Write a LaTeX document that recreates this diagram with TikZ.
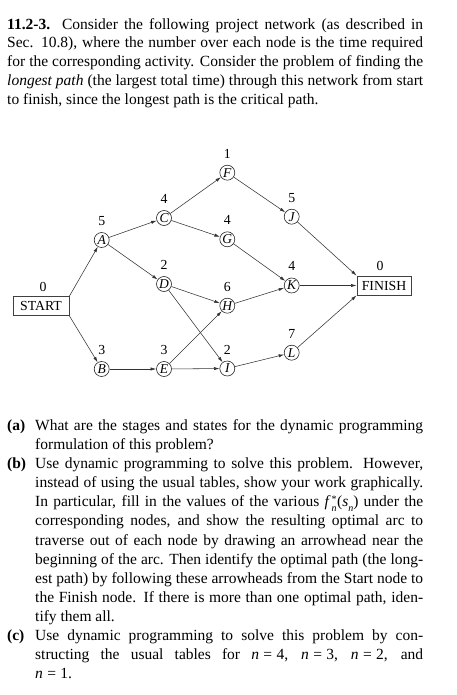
\documentclass[tikz,border=0pt]{standalone}
\usepackage{fontspec}
\setmainfont{Liberation Serif}
\usetikzlibrary{arrows.meta}
\newcommand{\jl}[1]{\makebox[416pt][s]{#1}}
\newcommand{\jp}[1]{\makebox[388pt][s]{#1}}
\newcommand{\plab}[1]{\makebox[28pt][l]{\textbf{(#1)}}}
\newcommand{\ind}{\hspace*{28pt}}
\newcommand{\vn}{\textit{n}\kern0.28em=\kern0.28em}
\newcommand{\fnstar}{\textit{f}\kern1pt\rlap{\raisebox{-0.3em}{\fontsize{10}{10}\selectfont\textit{n}}}\raisebox{0.3em}{\fontsize{10}{10}\selectfont *}\kern0.5pt(\textit{s}\raisebox{-0.3em}{\fontsize{10}{10}\selectfont\textit{n}})}
\begin{document}
\begin{tikzpicture}[x=1pt,y=-1pt,
  act/.style={circle,draw=black!85,line width=0.6pt,minimum size=15pt,inner sep=0pt,font=\fontsize{13.5}{14}\selectfont\itshape},
  term/.style={rectangle,draw=black!75,line width=0.9pt,minimum height=19pt,inner sep=1.5pt,font=\fontsize{13.8}{14}\selectfont},
  tlabel/.style={inner sep=0pt,font=\fontsize{13.8}{14}\selectfont},
  arc/.style={draw=black!80,line width=0.55pt,-{Latex[length=5.5pt,width=3.2pt]}},
  txt/.style={anchor=base west,inner sep=0pt,font=\fontsize{15.5}{18.7}\selectfont}]
\useasboundingbox (0,0) rectangle (456,695);

% ---- top paragraph ----
\node[txt] (t1) at (7,29.3) {\jl{\textbf{11.2-3.} Consider the following project network (as described in}};
\node[txt] (t2) at (7,48.0) {\jl{Sec. 10.8), where the number over each node is the time required}};
\node[txt] (t3) at (7,66.7) {\jl{for the corresponding activity. Consider the problem of finding the}};
\node[txt] (t4) at (7,85.4) {\jl{\textit{longest path} (the largest total time) through this network from start}};
\node[txt] (t5) at (7,104.1) {to finish, since the longest path is the critical path.};

% ---- network ----
\node[term,minimum width=56pt] (START) at (41,306) {START};
\node[term,minimum width=54pt] (FINISH) at (384,285.5) {FINISH};
\node[act] (A) at (101.7,240) {A};
\node[act] (B) at (101.7,369) {B};
\node[act] (C) at (164,218) {C};
\node[act] (D) at (164,284) {D};
\node[act] (E) at (164,369) {E};
\node[act] (F) at (227.3,172.7) {F};
\node[act] (G) at (227.3,239.3) {G};
\node[act] (H) at (227.3,305.7) {H};
\node[act] (I) at (227.3,368.5) {I};
\node[act] (J) at (291.7,216.7) {J};
\node[act] (K) at (291.7,285.5) {K};
\node[act] (L) at (291.7,352.7) {L};

\node[tlabel] (lS) at (43,286.5) {0};
\node[tlabel] (lFin) at (380,265.5) {0};
\node[tlabel] (lA) at (101.7,221) {5};
\node[tlabel] (lB) at (101.7,350) {3};
\node[tlabel] (lC) at (164,199) {4};
\node[tlabel] (lD) at (164,265) {2};
\node[tlabel] (lE) at (164,350) {3};
\node[tlabel] (lF) at (227.3,153.7) {1};
\node[tlabel] (lG) at (227.3,220.3) {4};
\node[tlabel] (lH) at (227.3,286.7) {6};
\node[tlabel] (lI) at (227.3,349.5) {2};
\node[tlabel] (lJ) at (291.7,197.7) {5};
\node[tlabel] (lK) at (291.7,266) {4};
\node[tlabel] (lL) at (291.7,333.7) {7};

\draw[arc] (START.north east) -- (A);
\draw[arc] (START.south east) -- (B);
\draw[arc] (A) -- (C);
\draw[arc] (A) -- (D);
\draw[arc] (B) -- (E);
\draw[arc] (C) -- (F);
\draw[arc] (C) -- (G);
\draw[arc] (D) -- (H);
\draw[arc] (D) -- (I);
\draw[arc] (E) -- (H);
\draw[arc] (E) -- (I);
\draw[arc] (F) -- (J);
\draw[arc] (G) -- (K);
\draw[arc] (H) -- (K);
\draw[arc] (I) -- (L);
\draw[arc] (J) -- (FINISH.north west);
\draw[arc] (K) -- (FINISH);
\draw[arc] (L) -- (FINISH.south west);

% ---- questions ----
\node[txt] (a1) at (7,430.7) {\plab{a}\jp{What are the stages and states for the dynamic programming}};
\node[txt] (a2) at (7,449.75) {\ind formulation of this problem?};
\node[txt] (b1) at (7,468.8) {\plab{b}\jp{Use dynamic programming to solve this problem. However,}};
\node[txt] (b2) at (7,487.85) {\ind\jp{instead of using the usual tables, show your work graphically.}};
\node[txt] (b3) at (7,506.9) {\ind\jp{In particular, fill in the values of the various \fnstar{} under the}};
\node[txt] (b4) at (7,525.95) {\ind\jp{corresponding nodes, and show the resulting optimal arc to}};
\node[txt] (b5) at (7,545.0) {\ind\jp{traverse out of each node by drawing an arrowhead near the}};
\node[txt] (b6) at (7,564.05) {\ind\jp{beginning of the arc. Then identify the optimal path (the long-}};
\node[txt] (b7) at (7,583.1) {\ind\jp{est path) by following these arrowheads from the Start node to}};
\node[txt] (b8) at (7,602.15) {\ind\jp{the Finish node. If there is more than one optimal path, iden-}};
\node[txt] (b9) at (7,621.2) {\ind tify them all.};
\node[txt] (c1) at (7,640.25) {\plab{c}\jp{Use dynamic programming to solve this problem by con-}};
\node[txt] (c2) at (7,659.3) {\ind\jp{structing the usual tables for \vn4, \vn3, \vn2, and}};
\node[txt] (c3) at (7,678.35) {\ind\vn1.};
\end{tikzpicture}
\end{document}
